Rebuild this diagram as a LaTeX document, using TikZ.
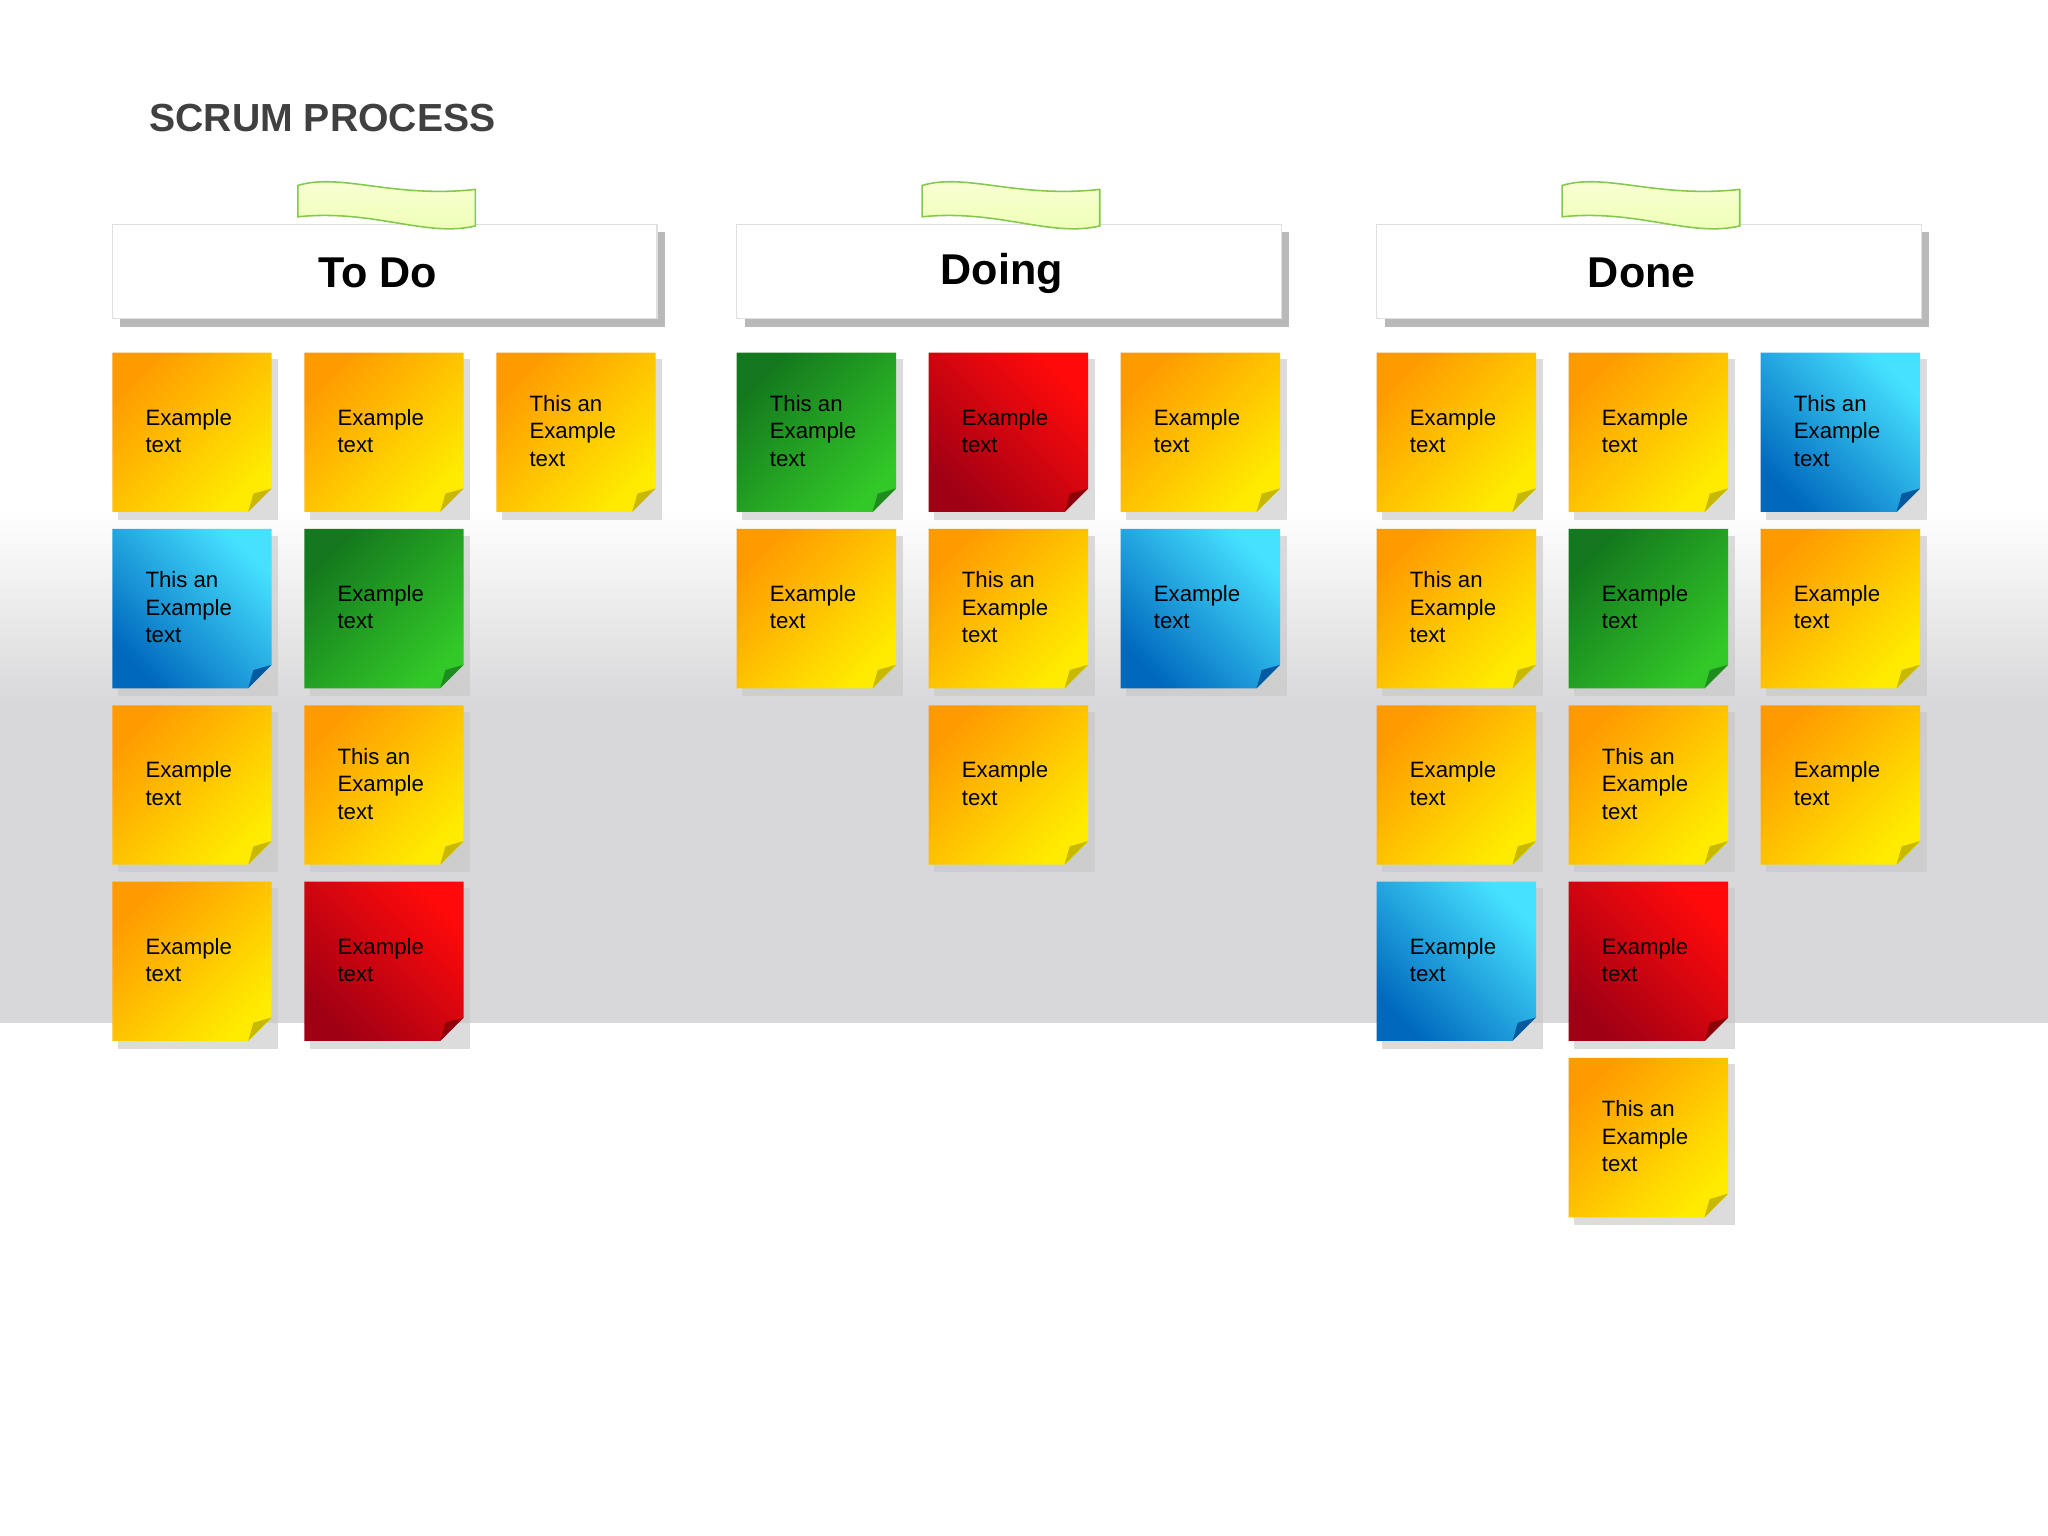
\documentclass[tikz,border=0pt]{standalone}
\usepackage{fontspec}
\setmainfont{Liberation Sans}
\definecolor{bggray}{RGB}{216,216,218}
\definecolor{oA}{RGB}{255,155,0}\definecolor{oB}{RGB}{255,235,0}\definecolor{oF}{RGB}{200,185,0}
\definecolor{bA}{RGB}{70,225,255}\definecolor{bB}{RGB}{0,105,190}\definecolor{bF}{RGB}{0,90,160}
\definecolor{gA}{RGB}{20,120,30}\definecolor{gB}{RGB}{50,200,40}\definecolor{gF}{RGB}{30,140,30}
\definecolor{rA}{RGB}{255,10,10}\definecolor{rB}{RGB}{160,0,20}\definecolor{rF}{RGB}{140,0,10}
\tikzset{
 notetext/.style={anchor=west,align=left,font=\fontsize{8.5}{10.5}\selectfont,text=black,inner sep=0pt},
 headtext/.style={font=\fontsize{16.5}{18}\selectfont\bfseries,text=black},
 O/.style={top color=oA,bottom color=oB,shading angle=45},
 B/.style={top color=bA,bottom color=bB,shading angle=-45},
 G/.style={top color=gA,bottom color=gB,shading angle=45},
 R/.style={top color=rA,bottom color=rB,shading angle=-45},
 tape/.style={top color=green!8!yellow!15,bottom color=green!25!yellow!30,draw=green!40!olive!70,line width=0.6pt}
}
% #1 name, #2 x, #3 y, #4 style, #5 fold colour, #6 text
\newcommand\sticky[6]{%
 \fill[gray!45,opacity=0.6] (#2+4,#3+5) rectangle (#2+127,#3+128);
 \shade[#4] (#2,#3)--(#2+122,#3)--(#2+122,#3+104)--(#2+104,#3+122)--(#2,#3+122)--cycle;
 \fill[#5] (#2+122,#3+104)--(#2+104,#3+122)--(#2+108,#3+108)--cycle;
 \node[notetext] (#1) at (#2+25,#3+60) {#6};
}
\newcommand\header[4]{%
 \fill[gray!55] (#2+6,#3+6) rectangle (#2+423,#3+78);
 \fill[white] (#2,#3) rectangle (#2+417,#3+72);
 \draw[gray!25] (#2,#3) rectangle (#2+417,#3+72);
 \shade[tape] (#2+142,#3-30) .. controls (#2+175,#3-40) and (#2+215,#3-20) .. (#2+278,#3-27)
   -- (#2+278,#3+1) .. controls (#2+240,#3+10) and (#2+200,#3-12) .. (#2+142,#3-6) -- cycle;
 \node[headtext] (#1) at (#2+203,#3+37) {#4};
}
\begin{document}
\begin{tikzpicture}[x=0.5pt,y=-0.5pt]
\useasboundingbox (0,0) rectangle (1568,1176);
\fill[white] (0,0) rectangle (1568,1176);
\shade[top color=white,bottom color=bggray] (0,390) rectangle (1568,540);
\fill[bggray] (0,539) rectangle (1568,783);
\node[anchor=west,font=\fontsize{15}{17}\selectfont\bfseries,text=black!75,inner sep=0pt] (title) at (114,90) {SCRUM PROCESS};
\header{h1}{86}{172}{To Do}
\header{h2}{564}{172}{Doing}
\header{h3}{1054}{172}{Done}
\def\E{Example\\text}\def\T{This an\\Example\\text}
% To Do
\sticky{a1}{86}{270}{O}{oF}{\E}
\sticky{a2}{233}{270}{O}{oF}{\E}
\sticky{a3}{380}{270}{O}{oF}{\T}
\sticky{a4}{86}{405}{B}{bF}{\T}
\sticky{a5}{233}{405}{G}{gF}{\E}
\sticky{a6}{86}{540}{O}{oF}{\E}
\sticky{a7}{233}{540}{O}{oF}{\T}
\sticky{a8}{86}{675}{O}{oF}{\E}
\sticky{a9}{233}{675}{R}{rF}{\E}
% Doing
\sticky{b1}{564}{270}{G}{gF}{\T}
\sticky{b2}{711}{270}{R}{rF}{\E}
\sticky{b3}{858}{270}{O}{oF}{\E}
\sticky{b4}{564}{405}{O}{oF}{\E}
\sticky{b5}{711}{405}{O}{oF}{\T}
\sticky{b6}{858}{405}{B}{bF}{\E}
\sticky{b7}{711}{540}{O}{oF}{\E}
% Done
\sticky{c1}{1054}{270}{O}{oF}{\E}
\sticky{c2}{1201}{270}{O}{oF}{\E}
\sticky{c3}{1348}{270}{B}{bF}{\T}
\sticky{c4}{1054}{405}{O}{oF}{\T}
\sticky{c5}{1201}{405}{G}{gF}{\E}
\sticky{c6}{1348}{405}{O}{oF}{\E}
\sticky{c7}{1054}{540}{O}{oF}{\E}
\sticky{c8}{1201}{540}{O}{oF}{\T}
\sticky{c9}{1348}{540}{O}{oF}{\E}
\sticky{c10}{1054}{675}{B}{bF}{\E}
\sticky{c11}{1201}{675}{R}{rF}{\E}
\sticky{c12}{1201}{810}{O}{oF}{\T}
\end{tikzpicture}
\end{document}
